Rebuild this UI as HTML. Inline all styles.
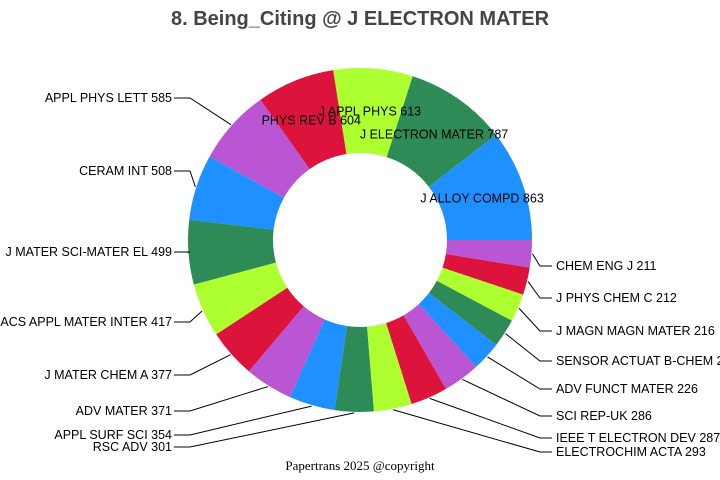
<!DOCTYPE html>
<html><head><meta charset="utf-8"><style>
body{margin:0;background:#fff;}
svg{display:block;font-family:"Liberation Sans",Arial,sans-serif;}
</style></head><body>
<svg id="c" width="720" height="480" viewBox="0 0 720 480">
<text x="360" y="25" text-anchor="middle" font-size="20" font-weight="bold" fill="#444">8. Being_Citing @ J ELECTRON MATER</text>
<g id="slices"></g><g id="labels"></g>
<text x="360" y="470" text-anchor="middle" font-size="13" font-family="'Liberation Serif',serif" fill="#000">Papertrans 2025 @copyright</text>
</svg>
<script>
const names=["J ALLOY COMPD","J ELECTRON MATER","J APPL PHYS","PHYS REV B","APPL PHYS LETT","CERAM INT","J MATER SCI-MATER EL","ACS APPL MATER INTER","J MATER CHEM A","ADV MATER","APPL SURF SCI","RSC ADV","ELECTROCHIM ACTA","IEEE T ELECTRON DEV","SCI REP-UK","ADV FUNCT MATER","SENSOR ACTUAT B-CHEM","J MAGN MAGN MATER","J PHYS CHEM C","CHEM ENG J"];
const values=[863,787,613,604,585,508,499,417,377,371,354,301,293,287,286,226,220,216,212,211];
const palette=["#1e90ff","#2e8b57","#adff2f","#dc143c","#ba55d3"];
const labelY=[0,0,0,0,98,171,252,322,375,411,435,447,452,438,416,389,361,331,298,266];
const cx=360,cy=240,R=172,r0=87;
const NS="http://www.w3.org/2000/svg";
const total=values.reduce((a,b)=>a+b,0);
const gs=document.getElementById('slices'),gl=document.getElementById('labels');
function pt(a,rad){return [cx+rad*Math.cos(a),cy-rad*Math.sin(a)];}
let ang=0;
values.forEach((v,i)=>{
  const a0=ang,a1=ang+v/total*2*Math.PI;ang=a1;
  const p0=pt(a0,R),p1=pt(a1,R),q1=pt(a1,r0),q0=pt(a0,r0);
  const lg=(a1-a0)>Math.PI?1:0;
  const p=document.createElementNS(NS,'path');
  p.setAttribute('d',`M${p0[0]},${p0[1]} A${R},${R} 0 ${lg} 0 ${p1[0]},${p1[1]} L${q1[0]},${q1[1]} A${r0},${r0} 0 ${lg} 1 ${q0[0]},${q0[1]} Z`);
  p.setAttribute('fill',palette[i%5]);
  
  
  gs.appendChild(p);
  const m=(a0+a1)/2;
  const t=document.createElementNS(NS,'text');
  t.setAttribute('font-size','12.5');t.setAttribute('fill','#000');
  t.textContent=names[i]+' '+v;
  
  
  if(i<4){
    const c=pt(m,129);
    t.setAttribute('x',c[0]);t.setAttribute('y',c[1]+4);t.setAttribute('text-anchor','middle');
  }else{
    const s=pt(m,R+1),right=Math.cos(m)>0,y=labelY[i];
    const ex=right?540:190,hx=right?552:174;
    const l=document.createElementNS(NS,'polyline');
    l.setAttribute('points',`${s[0]},${s[1]} ${ex},${y} ${hx},${y}`);
    l.setAttribute('fill','none');l.setAttribute('stroke','#000');l.setAttribute('stroke-width','1');
    
    
    gl.appendChild(l);
    t.setAttribute('x',right?556:172);t.setAttribute('y',y+4);t.setAttribute('text-anchor',right?'start':'end');
  }
  gl.appendChild(t);
});
</script>
</body></html>
